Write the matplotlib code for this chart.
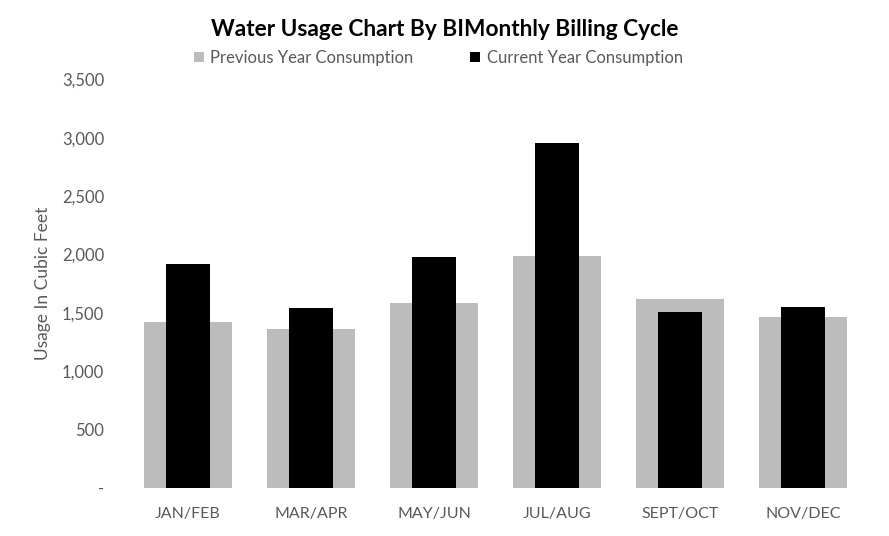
import matplotlib
matplotlib.use("Agg")
import matplotlib.pyplot as plt
from matplotlib.ticker import FuncFormatter
import numpy as np

plt.rcParams["font.family"] = ["Lato", "DejaVu Sans"]
plt.rcParams["hatch.color"] = "#cacaca"
plt.rcParams["hatch.linewidth"] = 0.6

cycles = ["JAN/FEB", "MAR/APR", "MAY/JUN", "JUL/AUG", "SEPT/OCT", "NOV/DEC"]
previous = [1420, 1360, 1583, 1985, 1617, 1463]
current = [1917, 1540, 1977, 2954, 1506, 1548]
yticks = [0, 500, 1000, 1500, 2000, 2500, 3000, 3500]

GRAY = "#bcbcbc"
TXT = "#595959"

fig = plt.figure(figsize=(8.89, 5.36), dpi=100)
ax = fig.add_axes([126.5 / 889, 1 - 487.7 / 536, 738 / 889, (487.7 - 79.5) / 536])
x = np.arange(len(cycles))
ax.bar(x, previous, width=0.715, color=GRAY, hatch="....", edgecolor=GRAY, lw=0,
       label="Previous Year Consumption")
ax.bar(x, current, width=0.358, color="black", lw=0, label="Current Year Consumption")

ax.set_xlim(-0.5, len(cycles) - 0.5)
ax.set_ylim(0, 3500)
ax.set_yticks(yticks)
ax.yaxis.set_major_formatter(FuncFormatter(lambda v, p: "-" if v == 0 else f"{int(v):,}"))
ax.set_xticks(x)
ax.set_xticklabels(cycles)
for s in ax.spines.values():
    s.set_visible(False)
ax.tick_params(length=0, colors=TXT, labelsize=11.5)
ax.tick_params(axis="y", labelsize=12, pad=16)
ax.tick_params(axis="x", pad=14)
ax.set_ylabel("Usage In Cubic Feet", color=TXT, fontsize=12.5, labelpad=8)

fig.text(0.5, 1 - 30 / 536, "Water Usage Chart By BIMonthly Billing Cycle", ha="center",
         va="center", fontsize=16.3, fontweight="bold", color="black")
leg = fig.legend(loc="center", bbox_to_anchor=(0.493, 1 - 58 / 536), ncol=2, frameon=False,
                 fontsize=12, handlelength=0.6, handleheight=0.6, handletextpad=0.4,
                 columnspacing=3.4, labelcolor=TXT)
fig.savefig("out.png", dpi=100)
